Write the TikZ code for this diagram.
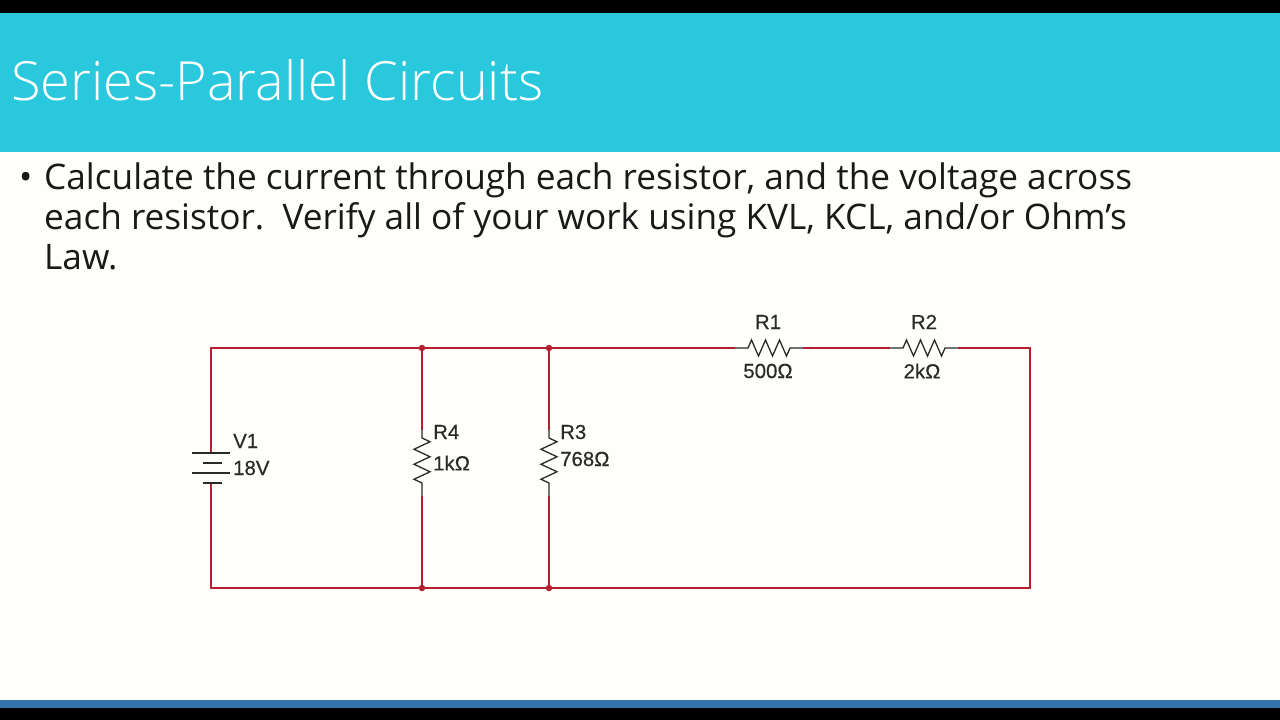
\documentclass[tikz,border=0pt]{standalone}
\usepackage{fontspec}
\setmainfont{Open Sans}
\newfontfamily\cirfont[FakeBold=0.4]{Liberation Sans}
\newfontfamily\titlefont{Open Sans Light}
\definecolor{bgc}{HTML}{FEFEFB}
\definecolor{headc}{HTML}{29C8DC}
\definecolor{footc}{HTML}{3573AD}
\definecolor{wirec}{HTML}{B5202F}
\definecolor{leadc}{HTML}{2A2A2A}
\tikzset{
  wire/.style={draw=wirec,line width=1.9pt,line join=miter},
  lead/.style={draw=leadc,line width=1.3pt,line join=miter},
  junction/.style={circle,fill=wirec,inner sep=0pt,minimum size=6.5pt},
  cirlabel/.style={font=\cirfont\fontsize{20.4}{21}\selectfont,text=leadc,inner sep=0pt},
  ttl/.style={font=\titlefont\fontsize{54}{54}\selectfont,text=white,anchor=base west,inner sep=0pt},
  bodytxt/.style={font=\fontsize{35.2}{40}\selectfont,text=black!90,anchor=base west,inner sep=0pt,align=left}
}
\newcommand{\hzig}[1]{\draw[lead] (#1) -- ++(13,0) -- ++(3.5,-8) -- ++(7,16) -- ++(7,-16) -- ++(7,16) -- ++(7,-16) -- ++(7,16) -- ++(3.5,-8) -- ++(13,0);}
\newcommand{\vzig}[1]{\draw[lead] (#1) -- ++(0,8) -- ++(8,3.75) -- ++(-16,7.5) -- ++(16,7.5) -- ++(-16,7.5) -- ++(16,7.5) -- ++(-16,7.5) -- ++(8,3.75) -- ++(0,13);}
\begin{document}
\begin{tikzpicture}[x=1pt,y=-1pt]
\useasboundingbox (0,0) rectangle (1280,720);
\fill[bgc] (0,0) rectangle (1280,720);
\fill[black] (0,0) rectangle (1280,13);
\fill[headc] (0,13) rectangle (1280,152);
\fill[footc] (0,700) rectangle (1280,708);
\fill[black] (0,708) rectangle (1280,720);
\node[ttl] (title) at (11,100) {Series-Parallel Circuits};
\node[bodytxt] (bullet) at (19,189) {•};
\node[bodytxt] (body) at (44,269) {Calculate the current through each resistor, and the voltage across\\each resistor.\ \ Verify all of your work using KVL, KCL, and/or Ohm’s\\Law.};
% coordinates
\coordinate (tl) at (211,348);
\coordinate (bl) at (211,588);
\coordinate (tr) at (1030,348);
\coordinate (br) at (1030,588);
\node[junction] (j1) at (422,348) {};
\node[junction] (j2) at (549,348) {};
\node[junction] (j3) at (422,588) {};
\node[junction] (j4) at (549,588) {};
\coordinate (r1a) at (735,348);
\coordinate (r1b) at (803,348);
\coordinate (r2a) at (890,348);
\coordinate (r2b) at (958,348);
\coordinate (r4a) at (422,430);
\coordinate (r4b) at (422,496);
\coordinate (r3a) at (549,430);
\coordinate (r3b) at (549,496);
\coordinate (bt) at (211,453);
\coordinate (bb) at (211,483);
% wires
\draw[wire] (bt) -- (tl) -- (j1) -- (j2) -- (r1a);
\draw[wire] (r1b) -- (r2a);
\draw[wire] (r2b) -- (tr) -- (br) -- (j4) -- (j3) -- (bl) -- (bb);
\draw[wire] (j1) -- (r4a);
\draw[wire] (r4b) -- (j3);
\draw[wire] (j2) -- (r3a);
\draw[wire] (r3b) -- (j4);
% resistors
\hzig{r1a}
\hzig{r2a}
\vzig{r4a}
\vzig{r3a}
% battery
\draw[lead] (192,453) -- (230,453);
\draw[lead] (203,463) -- (222,463);
\draw[lead] (192,473) -- (230,473);
\draw[lead] (203,483) -- (222,483);
% labels
\node[cirlabel] (lr1) at (768,322) {R1};
\node[cirlabel] (vr1) at (768,371) {500Ω};
\node[cirlabel] (lr2) at (924,322) {R2};
\node[cirlabel] (vr2) at (922,371) {2kΩ};
\node[cirlabel,anchor=west] (lr4) at (433,432) {R4};
\node[cirlabel,anchor=west] (vr4) at (433,463) {1kΩ};
\node[cirlabel,anchor=west] (lr3) at (560,432) {R3};
\node[cirlabel,anchor=west] (vr3) at (560,459) {768Ω};
\node[cirlabel,anchor=west] (lv1) at (233,441) {V1};
\node[cirlabel,anchor=west] (vv1) at (233,468) {18V};
\end{tikzpicture}
\end{document}
